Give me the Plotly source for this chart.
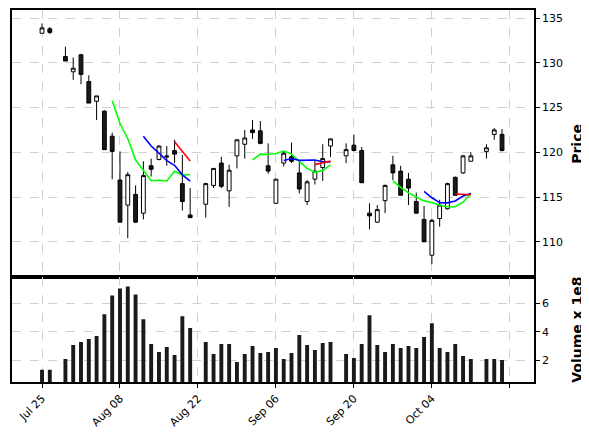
import plotly.graph_objects as go
from plotly.subplots import make_subplots
import pandas as pd

N = None
opens  = [133.3,133.8,N,130.7,129.0,130.9,127.9,125.7,124.6,121.8,116.9,114.1,115.3,113.2,118.5,119.2,119.6,120.2,116.5,113.0,N,
          114.2,116.3,118.8,115.7,119.6,120.9,122.5,122.4,118.5,114.3,118.8,119.5,117.7,114.5,117.0,118.3,120.7,N,
          119.6,120.8,120.2,113.2,112.2,114.6,118.6,117.9,117.0,114.5,112.5,108.5,112.6,113.7,117.2,117.7,119.0,N,120.1,122.0,122.0]
highs  = [134.4,134.0,N,131.8,130.6,131.0,128.6,126.3,124.7,122.2,120.1,117.8,116.3,119.0,119.3,120.8,120.7,121.4,119.7,116.0,N,
          116.6,118.2,119.5,118.6,121.4,122.5,123.6,123.5,121.0,117.0,120.2,121.1,119.1,116.9,119.1,120.9,121.5,N,
          121.0,122.0,120.6,114.3,114.1,116.4,119.6,118.5,117.7,115.5,114.0,112.6,114.7,116.6,117.3,119.7,120.0,N,120.9,122.7,122.6]
lows   = [133.3,133.2,N,130.2,128.1,127.6,125.5,123.6,120.3,117.0,112.2,110.4,112.1,112.5,117.3,119.1,118.5,118.8,113.5,112.7,N,
          112.7,116.0,116.0,113.9,118.2,119.3,121.5,120.9,117.6,114.3,118.4,118.8,115.4,114.1,116.4,116.8,119.5,N,
          118.8,120.1,116.6,111.4,112.1,113.2,116.9,115.2,114.1,113.2,110.0,107.5,111.7,113.6,115.2,117.6,119.0,N,119.3,121.4,120.1]
closes = [133.9,133.4,N,130.2,129.4,128.7,125.5,126.3,120.3,120.1,112.2,117.5,112.2,117.4,118.1,120.7,119.5,119.8,114.5,112.7,N,
          116.5,118.2,116.2,118.0,121.4,121.6,122.2,121.0,117.9,117.0,119.9,119.0,115.9,116.7,117.9,119.3,121.5,N,
          120.3,120.2,116.6,112.9,113.6,116.3,117.7,115.2,116.0,113.2,110.0,112.4,114.1,116.5,115.2,119.6,119.6,N,120.5,122.5,120.2]
volumes = [1.32,1.32,N,2.09,3.07,3.28,3.50,3.71,5.25,6.58,7.07,7.21,6.65,4.90,3.14,2.58,2.93,2.37,5.11,4.27,N,
           3.28,2.44,3.14,3.14,1.88,2.44,3.00,2.51,2.58,2.86,2.09,2.51,3.78,3.07,2.72,3.21,3.28,N,
           2.44,2.16,3.14,5.18,3.07,2.58,3.14,2.86,3.00,2.86,3.64,4.62,2.86,2.58,3.14,2.30,2.09,N,2.09,2.09,2.02]
tick_pos = [0,10,20,30,40,50,60]
tick_labels = ["Jul 25","Aug 08","Aug 22","Sep 06","Sep 20","Oct 04",""]
mav_windows = [7, 11, 15]
mav_colors = ["#00ff00", "#0000ff", "#ff0000"]

x = list(range(len(closes)))
cs = pd.Series(closes, dtype=float)

fig = make_subplots(rows=2, cols=1, shared_xaxes=True, vertical_spacing=0,
                    row_heights=[0.717, 0.283])
fig.add_trace(go.Candlestick(x=x, open=opens, high=highs, low=lows, close=closes,
    increasing=dict(line=dict(color="black", width=1), fillcolor="white"),
    decreasing=dict(line=dict(color="black", width=1), fillcolor="#1a1a1a"),
    whiskerwidth=0, showlegend=False), row=1, col=1)
for w, c in zip(mav_windows, mav_colors):
    m = cs.rolling(w).mean()
    fig.add_trace(go.Scatter(x=x, y=m, mode="lines", line=dict(color=c, width=1.6),
                             connectgaps=False, showlegend=False), row=1, col=1)
fig.add_trace(go.Bar(x=x, y=volumes, width=0.5, marker=dict(color="#1a1a1a", line=dict(width=0)),
                     showlegend=False), row=2, col=1)

grid = dict(showgrid=True, gridcolor="#d0d0d0", griddash="dash", gridwidth=1)
frame = dict(showline=True, linecolor="black", linewidth=1.5, mirror=True, zeroline=False)
fig.update_xaxes(range=[-3.85, 63.1], tickvals=tick_pos, ticktext=tick_labels, rangeslider_visible=False,
                 ticks="outside", ticklen=4, tickcolor="black", **grid, **frame)
fig.update_xaxes(showticklabels=False, row=1, col=1)
fig.update_xaxes(tickangle=-45, row=2, col=1)
fig.update_yaxes(side="right", ticks="outside", ticklen=4, tickcolor="black", **grid, **frame)
fig.update_yaxes(range=[106.1, 135.9], tickvals=[110,115,120,125,130,135], row=1, col=1)
fig.update_yaxes(range=[0.46, 7.9], tickvals=[2,4,6], row=2, col=1)
fig.add_annotation(text="<b>Price</b>", xref="paper", yref="paper", x=1.063, xanchor="left",
                   y=0.64, yanchor="middle", textangle=-90, showarrow=False, font=dict(size=14))
fig.add_annotation(text="<b>Volume x 1e8</b>", xref="paper", yref="paper", x=1.063, xanchor="left",
                   y=0.14, yanchor="middle", textangle=-90, showarrow=False, font=dict(size=14))
fig.update_layout(width=581, height=429, margin=dict(l=4, r=55, t=0, b=55),
                  plot_bgcolor="white", paper_bgcolor="white",
                  font=dict(family="DejaVu Sans", size=11, color="black"))
fig.write_html("out.html")
